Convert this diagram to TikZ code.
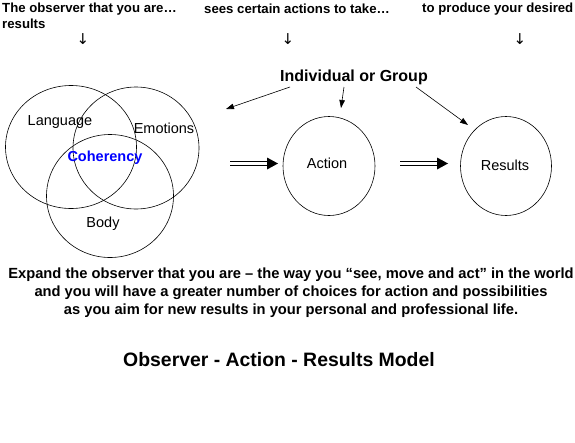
\documentclass[tikz,border=0pt]{standalone}
\usepackage{fontspec}
\setmainfont{Liberation Sans}
\newfontfamily\arrowfont{DejaVu Sans}
\usetikzlibrary{arrows.meta,shapes.geometric}
\begin{document}
\begin{tikzpicture}[x=1pt,y=-1pt,
  lbl/.style={font=\fontsize{14.5}{17}\selectfont, inner sep=0pt},
  blbl/.style={font=\fontsize{13.2}{15}\selectfont\bfseries, inner sep=0pt},
  ring/.style={draw, ellipse, line width=0.6pt, inner sep=0pt},
  thin arrow/.style={draw, line width=0.6pt, -{Triangle[length=8pt,width=5.5pt]}},
  dbl line/.style={draw, line width=1.1pt},
  dbl head/.style={fill=black},
  downarrow/.style={inner sep=0pt, font=\arrowfont\fontsize{15}{17}\selectfont}
]
\useasboundingbox (0,0) rectangle (575,442);
% top line
\node[blbl, anchor=west] (t1) at (2,9) {The observer that you are…};
\node[blbl, anchor=west] (t2) at (204,9) {sees certain actions to take…};
\node[blbl, anchor=west] (t3) at (422,9) {to produce your desired};
\node[blbl, anchor=west] (t4) at (2,24) {results};
\node[downarrow] (d1) at (83,39) {↓};
\node[downarrow] (d2) at (288,39) {↓};
\node[downarrow] (d3) at (520,39) {↓};
% Venn
\node[ring, minimum width=131pt, minimum height=123pt] (lang) at (71,147) {};
\node[ring, minimum width=126pt, minimum height=122pt] (emo) at (136,148) {};
\node[ring, minimum width=127pt, minimum height=123pt] (body) at (110,196) {};
\node[lbl] (langt) at (60,122) {Language};
\node[lbl] (emot) at (164,128) {Emotions};
\node[lbl, font=\fontsize{14.5}{17}\selectfont\bfseries, text=blue] (coh) at (105,158) {Coherency};
\node[lbl] (bodyt) at (103,224) {Body};
% Action, Results
\node[ring, minimum width=92pt, minimum height=99pt] (act) at (329,166) {};
\node[lbl] (actt) at (327,163) {Action};
\node[ring, minimum width=91pt, minimum height=99pt] (res) at (506,166) {};
\node[lbl] (rest) at (505,165) {Results};
% double arrows
\coordinate (a1s) at (230,163.5);
\coordinate (a1e) at (267,163.5);
\coordinate (a1t) at (278,163.5);
\coordinate (a2s) at (400,163.5);
\coordinate (a2e) at (437,163.5);
\coordinate (a2t) at (448,163.5);
\draw[dbl line] ([yshift=-1.6pt]a1s) -- ([yshift=-1.6pt]a1e);
\draw[dbl line] ([yshift=1.6pt]a1s) -- ([yshift=1.6pt]a1e);
\fill[dbl head] ([yshift=-6pt]a1e) -- (a1t) -- ([yshift=6pt]a1e) -- cycle;
\draw[dbl line] ([yshift=-1.6pt]a2s) -- ([yshift=-1.6pt]a2e);
\draw[dbl line] ([yshift=1.6pt]a2s) -- ([yshift=1.6pt]a2e);
\fill[dbl head] ([yshift=-6pt]a2e) -- (a2t) -- ([yshift=6pt]a2e) -- cycle;
% Individual or Group
\node[blbl, font=\fontsize{16}{18}\selectfont\bfseries] (ig) at (354,77) {Individual or Group};
\coordinate (g1s) at (290,87);
\coordinate (g1e) at (226,109);
\coordinate (g2s) at (344,87);
\coordinate (g2e) at (341,108);
\coordinate (g3s) at (416,87);
\coordinate (g3e) at (468,125);
\draw[thin arrow] (g1s) -- (g1e);
\draw[thin arrow] (g2s) -- (g2e);
\draw[thin arrow] (g3s) -- (g3e);
% bottom text
\node[blbl, align=center, font=\fontsize{14.7}{18}\selectfont\bfseries] (exp) at (291,293) {Expand the observer that you are – the way you “see, move and act” in the world\\and you will have a greater number of choices for action and possibilities\\as you aim for new results in your personal and professional life.};
\node[blbl, font=\fontsize{19.4}{22}\selectfont\bfseries] (title) at (279,360) {Observer - Action - Results Model};
\end{tikzpicture}
\end{document}
